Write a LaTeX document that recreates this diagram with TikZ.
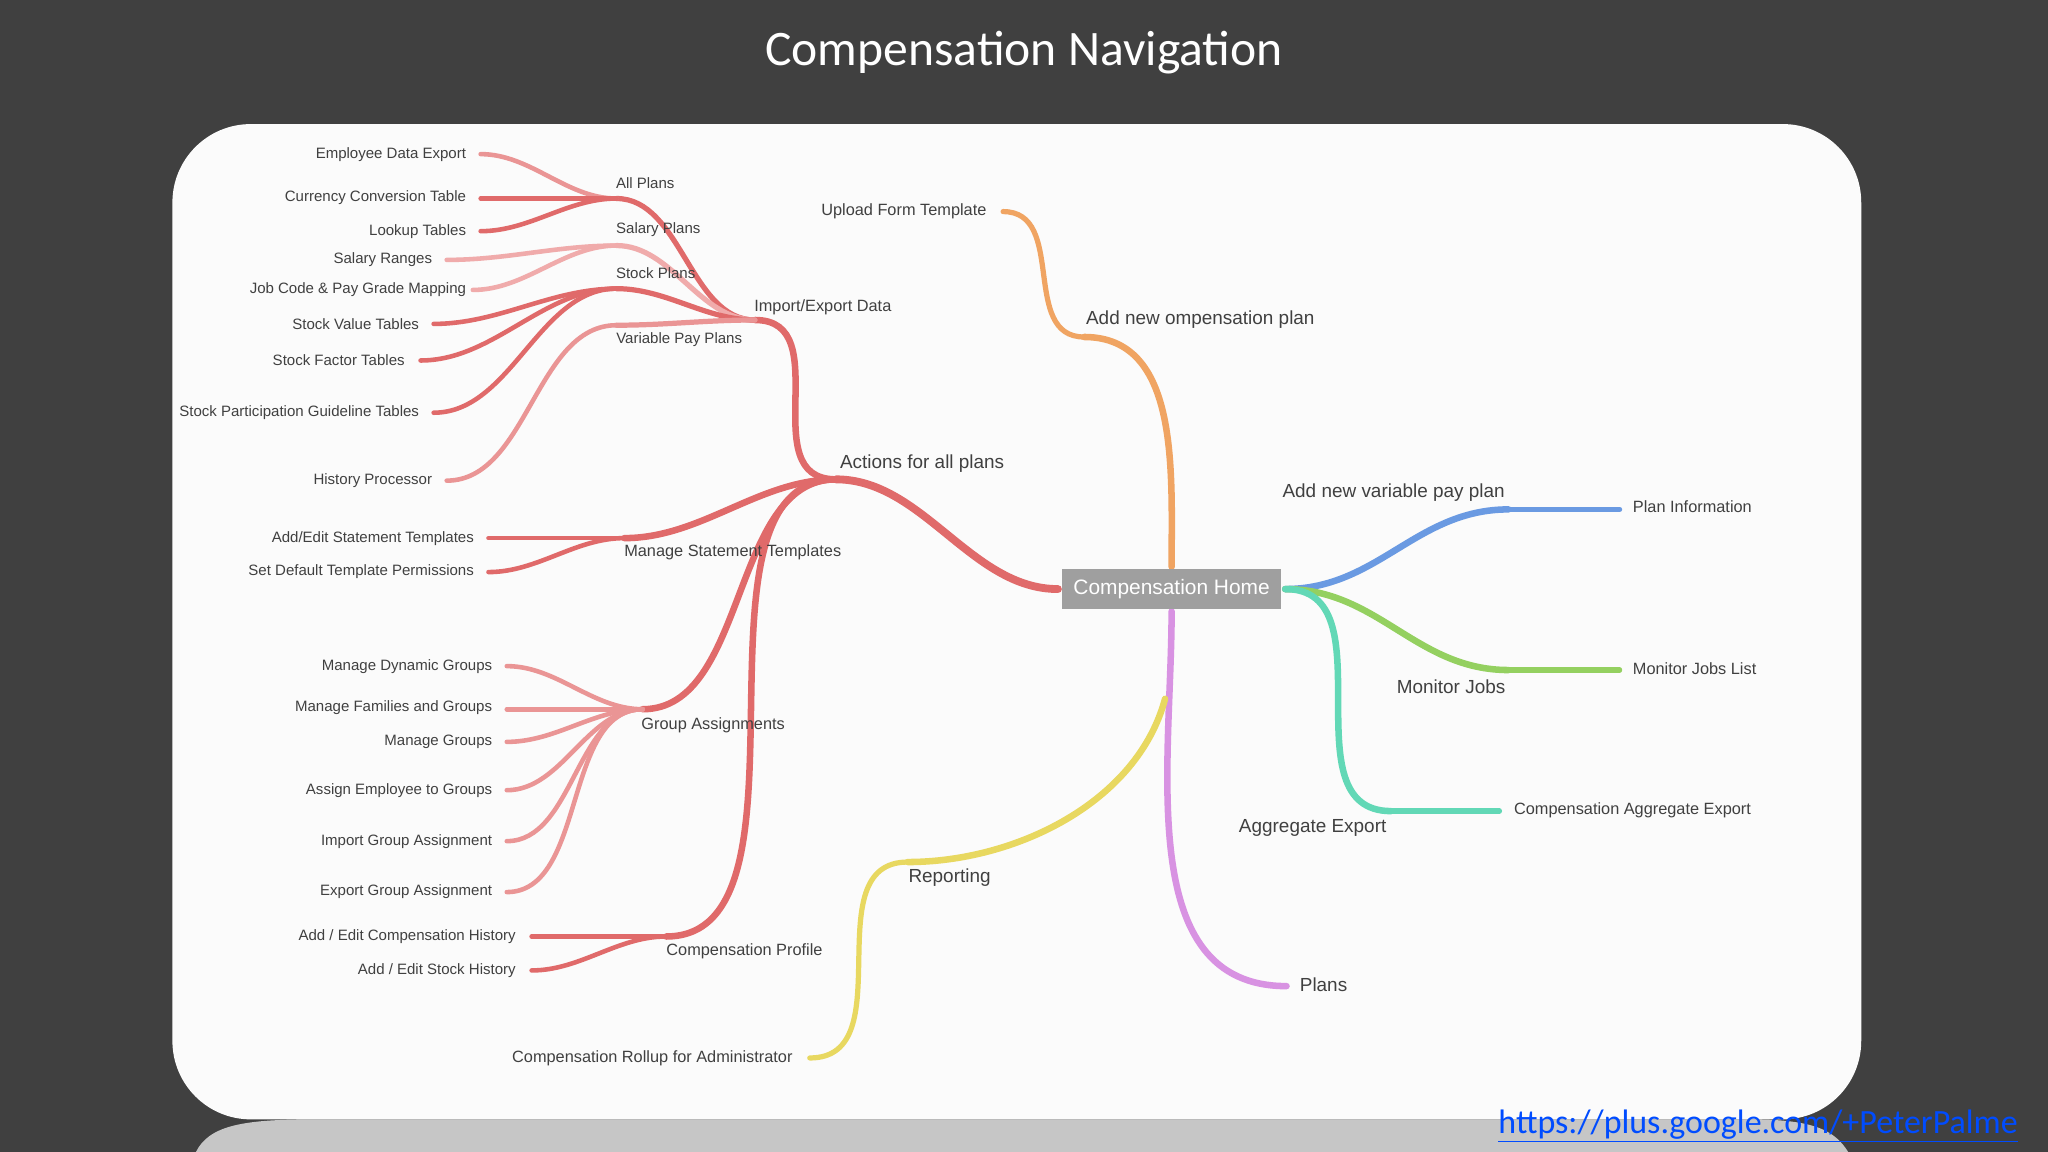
\documentclass[tikz,border=0pt]{standalone}
\usepackage{fontspec}
\setmainfont{Liberation Sans}
\newfontfamily\carlitofont{Carlito}
\begin{document}
\begin{tikzpicture}[x=1pt,y=-1pt,
  lbl/.style={font=\fontsize{11.5}{14}\selectfont,text=black!75,inner sep=1pt},
  mid/.style={font=\fontsize{12.5}{15}\selectfont,text=black!75,inner sep=1pt},
  big/.style={font=\fontsize{14.5}{17}\selectfont,text=black!75,inner sep=1pt},
  br/.style={line width=#1,line cap=round},
  hz/.style={out=180,in=0,looseness=0.9},
]
\definecolor{bg}{HTML}{404040}
\definecolor{cred}{HTML}{E06A6A}
\definecolor{cpink}{HTML}{F0ABAB}
\definecolor{cpk2}{HTML}{EA9595}
\definecolor{corg}{HTML}{F0A462}
\definecolor{cblue}{HTML}{6A9AE2}
\definecolor{cgrn}{HTML}{94D060}
\definecolor{cteal}{HTML}{62D8B6}
\definecolor{cpur}{HTML}{D892E2}
\definecolor{cyel}{HTML}{E8D860}
\fill[bg] (0,0) rectangle (1568,882);
\useasboundingbox (0,0) rectangle (1568,882);
\fill[gray!45] (150,882) .. controls (160,862) and (185,857) .. (240,857) -- (1340,857) .. controls (1390,857) and (1405,866) .. (1415,882) -- cycle;
\fill[white!97!gray] (132,95) [rounded corners=60pt] rectangle (1425,857);
\node[font=\carlitofont\fontsize{38}{42}\selectfont,text=white] (title) at (784,40) {Compensation Navigation};
\node[font=\carlitofont\fontsize{26}{30}\selectfont,text=blue!70!cyan,anchor=east,inner sep=0pt] (link) at (1545,862) {\underline{https://plus.google.com/+PeterPalme}};

% coordinates
\coordinate (hl) at (810,451); \coordinate (hr) at (984,451);
\coordinate (ht) at (897,434); \coordinate (hb) at (897,468);
\coordinate (act) at (640,367);
\coordinate (imp) at (578,245);
\coordinate (allp) at (472,152); \coordinate (salp) at (472,188);
\coordinate (stkp) at (472,221); \coordinate (varp) at (472,249);
\coordinate (e1) at (368,118); \coordinate (e2) at (368,152); \coordinate (e3) at (368,177);
\coordinate (e4) at (342,199); \coordinate (e5) at (362,222);
\coordinate (e6) at (332,248); \coordinate (e7) at (322,276); \coordinate (e8) at (332,316);
\coordinate (e9) at (342,368);
\coordinate (mst) at (478,412);
\coordinate (m1) at (374,412); \coordinate (m2) at (374,438);
\coordinate (grp) at (492,543);
\coordinate (g1) at (388,510); \coordinate (g2) at (388,543); \coordinate (g3) at (388,568);
\coordinate (g4) at (388,605); \coordinate (g5) at (388,644); \coordinate (g6) at (388,683);
\coordinate (cp) at (510,717);
\coordinate (c1) at (407,717); \coordinate (c2) at (407,743);
\coordinate (anp) at (830,258); \coordinate (upl) at (768,162);
\coordinate (avp) at (1155,390); \coordinate (pin) at (1240,390);
\coordinate (mj) at (1155,513); \coordinate (mjl) at (1240,513);
\coordinate (ae) at (1065,621); \coordinate (cae) at (1148,621);
\coordinate (pl) at (985,755);
\coordinate (ys) at (892,535);
\coordinate (rep) at (695,660); \coordinate (rol) at (620,810);

% connectors
\draw[br=6pt,cred] (hl) to[hz] (act);
\draw[br=5pt,cred] (act) to[out=180,in=0,looseness=1.2] (imp);
\draw[br=4pt,cred] (imp) to[hz] (allp);
\draw[br=4pt,cpink] (imp) to[hz] (salp);
\draw[br=4pt,cred] (imp) to[hz] (stkp);
\draw[br=4pt,cpk2] (imp) to[hz] (varp);
\draw[br=3.5pt,cpk2] (allp) to[hz] (e1);
\draw[br=3.5pt,cred] (allp) to[hz] (e2);
\draw[br=3.5pt,cred] (allp) to[hz] (e3);
\draw[br=3.5pt,cpink] (salp) to[hz] (e4);
\draw[br=3.5pt,cpink] (salp) to[hz] (e5);
\draw[br=3.5pt,cred] (stkp) to[hz] (e6);
\draw[br=3.5pt,cred] (stkp) to[hz] (e7);
\draw[br=3.5pt,cred] (stkp) to[hz] (e8);
\draw[br=3.5pt,cpk2] (varp) to[hz] (e9);
\draw[br=5pt,cred] (act) to[hz] (mst);
\draw[br=3.5pt,cred] (mst) to[hz] (m1);
\draw[br=3.5pt,cred] (mst) to[hz] (m2);
\draw[br=5pt,cred] (act) to[out=180,in=0,looseness=0.9] (grp);
\foreach \g in {g1,g2,g3,g4,g5,g6} \draw[br=3.5pt,cpk2] (grp) to[hz] (\g);
\draw[br=5pt,cred] (act) to[out=180,in=0,looseness=0.85] (cp);
\draw[br=3.5pt,cred] (cp) to[hz] (c1);
\draw[br=3.5pt,cred] (cp) to[hz] (c2);
\draw[br=5pt,corg] (ht) to[out=90,in=0,looseness=1] (anp);
\draw[br=4pt,corg] (anp) to[out=180,in=0,looseness=1.1] (upl);
\draw[br=5pt,cblue] (hr) to[out=0,in=180,looseness=1] (avp);
\draw[br=4pt,cblue] (avp) -- (pin);
\draw[br=5pt,cgrn] (hr) to[out=0,in=180,looseness=1] (mj);
\draw[br=4pt,cgrn] (mj) -- (mjl);
\draw[br=5pt,cteal] (hr) to[out=0,in=180,looseness=1.1] (ae);
\draw[br=4pt,cteal] (ae) -- (cae);
\draw[br=5pt,cpur] (hb) to[out=-90,in=180,looseness=1] (pl);
\draw[br=5pt,cyel] (ys) to[out=-105,in=0,looseness=0.9] (rep);
\draw[br=4pt,cyel] (rep) to[out=180,in=0,looseness=1.1] (rol);

\node[fill=gray!75,text=white,font=\fontsize{16}{18}\selectfont,minimum width=168pt,minimum height=30pt,inner sep=0pt] (home) at (897,451) {Compensation Home};

% labels
\node[big] (lact) at (706,355) {Actions for all plans};
\node[mid] (limp) at (630,235) {Import/Export Data};
\node[lbl] (lall) at (494,140) {All Plans};
\node[lbl] (lsal) at (504,176) {Salary Plans};
\node[lbl] (lstk) at (502,209) {Stock Plans};
\node[lbl] (lvar) at (520,260) {Variable Pay Plans};
\node[lbl,anchor=east] (t1) at (358,118) {Employee Data Export};
\node[lbl,anchor=east] (t2) at (358,151) {Currency Conversion Table};
\node[lbl,anchor=east] (t3) at (358,177) {Lookup Tables};
\node[lbl,anchor=east] (t4) at (332,199) {Salary Ranges};
\node[lbl,anchor=east] (t5) at (358,222) {Job Code \& Pay Grade Mapping};
\node[lbl,anchor=east] (t6) at (322,248) {Stock Value Tables};
\node[lbl,anchor=east] (t7) at (311,276) {Stock Factor Tables};
\node[lbl,anchor=east] (t8) at (322,316) {Stock Participation Guideline Tables};
\node[lbl,anchor=east] (t9) at (332,368) {History Processor};
\node[mid] (lmst) at (561,423) {Manage Statement Templates};
\node[lbl,anchor=east] (tm1) at (364,412) {Add/Edit Statement Templates};
\node[lbl,anchor=east] (tm2) at (364,438) {Set Default Template Permissions};
\node[mid] (lgrp) at (546,555) {Group Assignments};
\node[lbl,anchor=east] (tg1) at (378,510) {Manage Dynamic Groups};
\node[lbl,anchor=east] (tg2) at (378,542) {Manage Families and Groups};
\node[lbl,anchor=east] (tg3) at (378,568) {Manage Groups};
\node[lbl,anchor=east] (tg4) at (378,605) {Assign Employee to Groups};
\node[lbl,anchor=east] (tg5) at (378,644) {Import Group Assignment};
\node[lbl,anchor=east] (tg6) at (378,683) {Export Group Assignment};
\node[mid] (lcp) at (570,728) {Compensation Profile};
\node[lbl,anchor=east] (tc1) at (396,717) {Add / Edit Compensation History};
\node[lbl,anchor=east] (tc2) at (396,743) {Add / Edit Stock History};
\node[big] (lanp) at (919,245) {Add new ompensation plan};
\node[mid] (lupl) at (692,162) {Upload Form Template};
\node[big] (lavp) at (1067,377) {Add new variable pay plan};
\node[mid,anchor=west] (lpin) at (1249,388) {Plan Information};
\node[big] (lmj) at (1111,526) {Monitor Jobs};
\node[mid,anchor=west] (lmjl) at (1249,512) {Monitor Jobs List};
\node[big] (lae) at (1005,634) {Aggregate Export};
\node[mid,anchor=west] (lcae) at (1158,620) {Compensation Aggregate Export};
\node[big,anchor=west] (lpl) at (994,754) {Plans};
\node[big] (lrep) at (727,672) {Reporting};
\node[mid,anchor=east] (lrol) at (608,810) {Compensation Rollup for Administrator};
\end{tikzpicture}
\end{document}
